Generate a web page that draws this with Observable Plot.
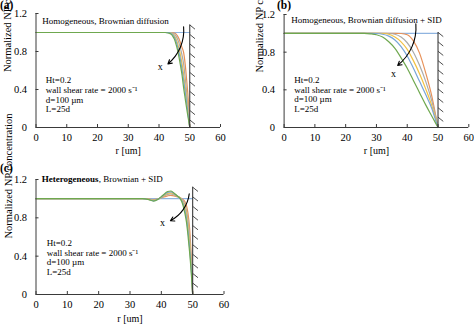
<!DOCTYPE html>
<html><head><meta charset="utf-8">
<script src="https://cdn.jsdelivr.net/npm/d3@7"></script>
<script src="https://cdn.jsdelivr.net/npm/@observablehq/plot@0.6"></script>
<style>
body{margin:0;background:#fff;}
#wrap{position:relative;width:474px;height:327px;background:#fff;overflow:hidden;font-family:"Liberation Serif","Times New Roman",serif;}
.panel{position:absolute;}
.plab{position:absolute;font-weight:bold;font-size:11.5px;line-height:1;color:#000;}
</style></head><body><div id="wrap"></div>
<script>
// ---------- shared ----------
const xTicks = [0,10,20,30,40,50,60];
const yTicks = [0,0.4,0.8,1.2];
const seriesNames = ["s1","s2","s3","s4","s5","s6"];
const seriesColors = ["#8fb4e0","#e8925a","#ababab","#f3c244","#78a6d8","#6fa84f"];
const yLabel = "Normalized NP concentration";
const xLabel = "r [um]";
const paramText = "Ht=0.2\nwall shear rate = 2000 s\u207B\u00B9\nd=100 \u00B5m\nL=25d";

// ---------- panel (a) ----------
const aTitle = "Homogeneous, Brownian diffusion";
const aR      = [0, 42, 43, 44, 44.5, 45, 45.5, 46, 46.5, 47, 47.5, 48, 48.5, 49, 49.5, 50];
const aBlue   = [1, 1, 1, 1, 1, 1, 1, 1, 1, 1, 1, 1, 1, 1, 1, 1];
const aOrange = [1, 1, 1, 1, 1, .995, .985, .965, .935, .89, .84, .79, .67, .5, .3, 0];
const aGray   = [1, 1, 1, 1, .995, .985, .965, .935, .89, .83, .76, .67, .53, .37, .19, 0];
const aYellow = [1, 1, 1, .995, .985, .965, .935, .89, .83, .76, .67, .56, .43, .3, .16, 0];
const aLBlue  = [1, 1, .998, .99, .975, .95, .91, .86, .79, .71, .61, .5, .38, .26, .13, 0];
const aGreen  = [1, 1, .995, .98, .96, .93, .88, .82, .74, .65, .55, .42, .31, .2, .1, 0];
const aArrow = [48, 1.06, 42.9, 0.67];
const aXPos = [40.4, 0.635];
const aWallTop = 1.08;

// ---------- panel (b) ----------
const bTitle = "Homogeneous, Brownian diffusion + SID";
const bR      = [0, 24, 26, 28, 30, 32, 34, 36, 38, 40, 42, 44, 46, 48, 49, 50];
const bBlue   = [1, 1, 1, 1, 1, 1, 1, 1, 1, 1, 1, 1, 1, 1, 1, 1];
const bOrange = [1, 1, 1, 1, 1, 1, 1, 1, .998, .985, .92, .79, .58, .33, .17, 0];
const bGray   = [1, 1, 1, 1, 1, 1, .998, .99, .96, .9, .8, .66, .49, .28, .15, 0];
const bYellow = [1, 1, 1, 1, 1, .998, .99, .96, .91, .83, .71, .57, .41, .23, .12, 0];
const bLBlue  = [1, 1, 1, 1, .998, .99, .97, .93, .86, .76, .63, .49, .35, .2, .1, 0];
const bGreen  = [1, 1, 1, .995, .985, .96, .91, .84, .74, .63, .5, .37, .24, .12, .06, 0];
const bArrow = [42.8, 1.1, 36.9, 0.66];
const bXPos = [35.5, 0.57];
const bWallTop = 1.01;

// ---------- panel (c) ----------
const cTitleBold = "Heterogeneous";
const cTitleRest = ", Brownian + SID";
const cR      = [0, 30, 34, 36, 37.5, 39, 40.5, 42, 43, 44, 45, 46, 46.5, 47, 47.5, 48, 48.5, 49, 49.5, 50];
const cBlue   = [1, 1, 1, 1, 1, 1, 1, 1, 1, 1, 1, 1, 1, 1, 1, 1, 1, 1, 1, 1];
const cOrange = [1, 1, 1, .997, .99, .998, 1.015, 1.03, 1.035, 1.03, 1.02, 1.01, 1.0, .99, .97, .93, .85, .7, .42, 0];
const cGray   = [1, 1, 1, .995, .985, .997, 1.02, 1.045, 1.05, 1.04, 1.025, 1.01, .995, .975, .94, .88, .78, .62, .37, 0];
const cYellow = [1, 1, 1, .993, .982, .996, 1.025, 1.055, 1.06, 1.05, 1.03, 1.005, .985, .955, .91, .84, .72, .56, .32, 0];
const cLBlue  = [1, 1, 1, .991, .978, .995, 1.03, 1.065, 1.07, 1.055, 1.03, 1.0, .98, .94, .88, .8, .67, .5, .29, 0];
const cGreen  = [1, 1, 1, .99, .975, .995, 1.035, 1.075, 1.08, 1.06, 1.03, 1.0, .97, .92, .85, .76, .62, .45, .25, 0];
const cArrow = [48.9, 1.05, 42.9, 0.77];
const cXPos = [40.4, 0.75];
const cWallTop = 1.12;

function rows(r, list) {
  const out = [];
  list.forEach((vals, k) => vals.forEach((v, i) => out.push({r: r[i], v, s: seriesNames[k]})));
  return out;
}

const AX = "#3a3a3a";

function panel(cfg) {
  const hatch = d3.range(cfg.wallTop, 0.03, -0.1);
  const marks = [
    Plot.line(cfg.data, {x: "r", y: "v", z: "s", stroke: "s", strokeWidth: 1.2, curve: "monotone-x"}),
    Plot.ruleX([50], {y1: 0, y2: cfg.wallTop, stroke: AX, strokeWidth: 1.1}),
    Plot.link(hatch, {x1: 50, x2: 51.7, y1: d => d, y2: d => d - 0.045, stroke: AX, strokeWidth: 0.9}),
    Plot.ruleY([0], {stroke: AX}),
    Plot.ruleX([0], {stroke: AX}),
    Plot.axisX(xTicks, {tickSize: -3, tickPadding: 9, fontSize: 10.5, stroke: AX, label: null}),
    Plot.axisY(yTicks, {tickSize: -3, tickPadding: 12, fontSize: 10.5, stroke: AX, label: null, tickFormat: d => String(d)}),
    Plot.arrow([cfg.arrow], {x1: d => d[0], y1: d => d[1], x2: d => d[2], y2: d => d[3], bend: 28, headLength: 6, stroke: "#000", strokeWidth: 1.1}),
    Plot.text([cfg.xpos], {x: d => d[0], y: d => d[1], text: () => "x", fontSize: 10}),
    Plot.text([paramText], {x: cfg.paramX, y: cfg.paramY, text: d => d, textAnchor: "start", lineAnchor: "top", lineHeight: 1.06, fontSize: 9}),
    Plot.text([yLabel], {frameAnchor: "left", rotate: -90, dx: cfg.ylabDx, dy: 1.5, text: d => d, fontSize: 10.5}),
    Plot.text([xLabel], {frameAnchor: "bottom", dy: cfg.xlabDy, text: d => d, fontSize: 10})
  ];
  cfg.titles.forEach(t => marks.push(Plot.text([t.text], {x: cfg.titleX, y: cfg.titleY, dx: t.dx, text: d => d, textAnchor: "start", fontSize: 9, fontWeight: t.bold ? "bold" : "normal"})));
  const svg = Plot.plot({
    width: cfg.width, height: cfg.height,
    marginLeft: cfg.m[0], marginRight: cfg.m[1], marginTop: cfg.m[2], marginBottom: cfg.m[3],
    style: {fontFamily: "Liberation Serif, Times New Roman, serif", color: "#000", background: "transparent", overflow: "visible"},
    x: {domain: [0, 60], axis: null},
    y: {domain: [0, 1.2], axis: null},
    color: {domain: seriesNames, range: seriesColors},
    marks
  });
  const div = document.createElement("div");
  div.className = "panel";
  div.style.left = cfg.left + "px";
  div.style.top = cfg.top + "px";
  div.appendChild(svg);
  document.getElementById("wrap").appendChild(div);
  const lab = document.createElement("div");
  lab.className = "plab";
  lab.textContent = cfg.tag;
  lab.style.left = cfg.tagPos[0] + "px";
  lab.style.top = cfg.tagPos[1] + "px";
  document.getElementById("wrap").appendChild(lab);
}

panel({
  tag: "(a)", tagPos: [0, 0], left: 0, top: 0, width: 237, height: 163, m: [35.5, 17, 13, 36],
  data: rows(aR, [aBlue, aOrange, aGray, aYellow, aLBlue, aGreen]),
  wallTop: aWallTop, arrow: aArrow, xpos: aXPos,
  titles: [{text: aTitle, dx: 0}], titleX: 2, titleY: 1.115,
  paramX: 3.2, paramY: 0.535, ylabDx: -28, xlabDy: 26
});
panel({
  tag: "(b)", tagPos: [277, 0], left: 237, top: 0, width: 237, height: 163, m: [46.6, 5.7, 14, 36],
  data: rows(bR, [bBlue, bOrange, bGray, bYellow, bLBlue, bGreen]),
  wallTop: bWallTop, arrow: bArrow, xpos: bXPos,
  titles: [{text: bTitle, dx: 0}], titleX: 2.3, titleY: 1.14,
  paramX: 3.3, paramY: 0.54, ylabDx: -24, xlabDy: 26
});
panel({
  tag: "(c)", tagPos: [0, 163], left: 0, top: 163, width: 237, height: 164, m: [35.5, 13.5, 16, 33],
  data: rows(cR, [cBlue, cOrange, cGray, cYellow, cLBlue, cGreen]),
  wallTop: cWallTop, arrow: cArrow, xpos: cXPos,
  titles: [{text: cTitleBold, dx: 0, bold: true}, {text: cTitleRest, dx: 57}], titleX: 1.8, titleY: 1.2,
  paramX: 3.4, paramY: 0.575, ylabDx: -27, xlabDy: 27
});
</script></body></html>
